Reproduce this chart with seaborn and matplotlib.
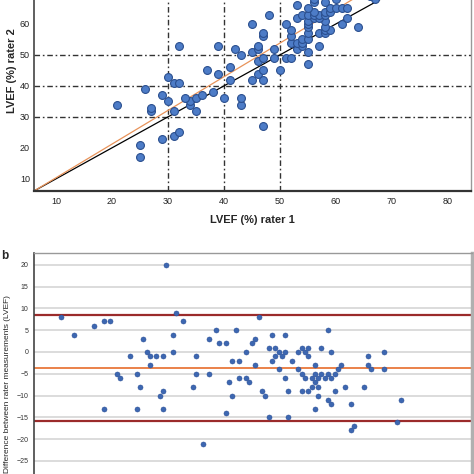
import numpy as np
import pandas as pd
import matplotlib
matplotlib.use('Agg')
import matplotlib.pyplot as plt
import seaborn as sns

# LVEF (%) read per patient from panel a
rater1 = [25, 25, 29, 31, 32, 21, 27, 27, 31, 30,
          26, 29, 35, 34, 34, 33, 35, 31, 36, 32,
          30, 47, 40, 38, 43, 43, 37, 41, 39, 32,
          45, 41, 47, 46, 47, 39, 43, 46, 42, 50,
          47, 45, 49, 46, 46, 51, 52, 49, 55, 47,
          47, 53, 45, 55, 52, 54, 53, 54, 52, 54,
          57, 55, 52, 51, 48, 55, 57, 55, 58, 55, 53,
          58, 55, 59, 58, 54, 56, 55, 58, 57, 56,
          53, 57, 56, 55, 61, 58, 58, 64, 59, 56,
          62, 59, 56, 60, 58, 61, 62, 60, 59, 56,
          57, 63, 67, 66, 66, 70, 68, 64, 67]
rater2 = [17, 21, 23, 24, 25, 34, 32, 33, 32, 35,
          39, 37, 32, 34, 35, 36, 36, 41, 37, 41,
          43, 27, 36, 38, 34, 36, 45, 42, 44, 53,
          42, 46, 42, 44, 45, 53, 50, 48, 52, 45,
          49, 51, 49, 52, 53, 49, 49, 52, 47, 56,
          57, 52, 60, 51, 54, 53, 54, 54, 56, 55,
          53, 55, 58, 60, 63, 57, 57, 59, 57, 60, 62,
          58, 61, 58, 59, 63, 62, 63, 61, 62, 63,
          66, 63, 64, 65, 60, 63, 64, 59, 64, 67,
          62, 65, 68, 65, 67, 65, 65, 68, 71, 74,
          74, 71, 68, 69, 70, 70, 72, 80, 78]

ref_levels = [30, 40, 50]
fit_slope = 1.087
fit_intercept = -0.53

bias = -3.7
loa_upper = 8.4
loa_lower = -15.8

df = pd.DataFrame({'rater1': rater1, 'rater2': rater2})
df['mean'] = (df['rater1'] + df['rater2']) / 2
df['diff'] = df['rater1'] - df['rater2']

sns.set_style('white')
plt.rcParams['font.family'] = ['Liberation Sans', 'DejaVu Sans']

fig = plt.figure(figsize=(4.74, 4.74), dpi=100)

# panel a: scatter rater 1 vs rater 2
ax1 = fig.add_axes([34 / 474, 283 / 474, 437 / 474, 241.8 / 474])
for v in ref_levels:
    ax1.axhline(v, color='#333333', lw=1.0, ls=(0, (4, 2, 1.2, 2)), zorder=1)
    ax1.axvline(v, color='#333333', lw=1.0, ls=(0, (4, 2, 1.2, 2)), zorder=1)
ax1.axline((0, 0), slope=1, color='black', lw=0.9, zorder=2)
ax1.axline((0, fit_intercept), slope=fit_slope, color='#e8935a', lw=0.9, zorder=2)
sns.scatterplot(data=df, x='rater1', y='rater2', ax=ax1, s=32, color='#4d7cc7',
                edgecolor='#2b4f8f', linewidth=0.8, zorder=3)
ax1.set_xlim(6.1, 84.1)
ax1.set_ylim(6.1, 84.1)
ax1.set_xticks(range(10, 90, 10))
ax1.set_yticks(range(10, 70, 10))
ax1.tick_params(axis='x', length=0, labelsize=6.5, pad=4, colors='#222222')
ax1.tick_params(axis='y', length=0, labelsize=6.5, pad=3, colors='#222222')
ax1.set_xlabel('LVEF (%) rater 1', fontsize=8, fontweight='bold')
ax1.set_ylabel('LVEF (%) rater 2', fontsize=8, fontweight='bold')
ax1.xaxis.set_label_coords(0.5, -0.1)
ax1.yaxis.set_label_coords(-0.038, 0.5)
ax1.spines['left'].set(color='#444444', lw=1.2)
ax1.spines['bottom'].set(color='#333333', lw=1.6)
ax1.spines['right'].set(color='#999999', lw=1.0)

# panel b: Bland-Altman
ax2 = fig.add_axes([34 / 474, -17.5 / 474, 438 / 474, 238.5 / 474])
ax2.set_yticks(range(-25, 25, 5))
ax2.yaxis.grid(True, color='#d6d6d6', lw=1.2)
ax2.set_axisbelow(True)
ax2.axhline(loa_upper, color='#9b2b2b', lw=1.6, zorder=2)
ax2.axhline(loa_lower, color='#9b2b2b', lw=1.6, zorder=2)
ax2.axhline(bias, color='#e8773a', lw=1.3, zorder=2)
sns.scatterplot(data=df, x='mean', y='diff', ax=ax2, s=13, color='#3d67b1',
                edgecolor='#2d5299', linewidth=0.4, zorder=3)
ax2.set_xlim(16.95, 83.3)
ax2.set_ylim(-32, 22.7)
ax2.set_xticks([])
ax2.tick_params(axis='y', length=0, labelsize=5, pad=4, colors='#333333')
ax2.set_xlabel('')
ax2.set_ylabel('Difference between rater measurements (LVEF)', fontsize=6)
ax2.yaxis.set_label_coords(-0.052, 0.451)
ax2.spines['left'].set(color='#444444', lw=1.2)
ax2.spines['top'].set(color='#999999', lw=1.0)
ax2.spines['right'].set(color='#b0b0b0', lw=2.5)

fig.text(4.5 / 474, 1 - 256 / 474, 'b', fontsize=8.5, fontweight='bold',
         ha='center', va='center')

fig.savefig('out.png', dpi=100)
